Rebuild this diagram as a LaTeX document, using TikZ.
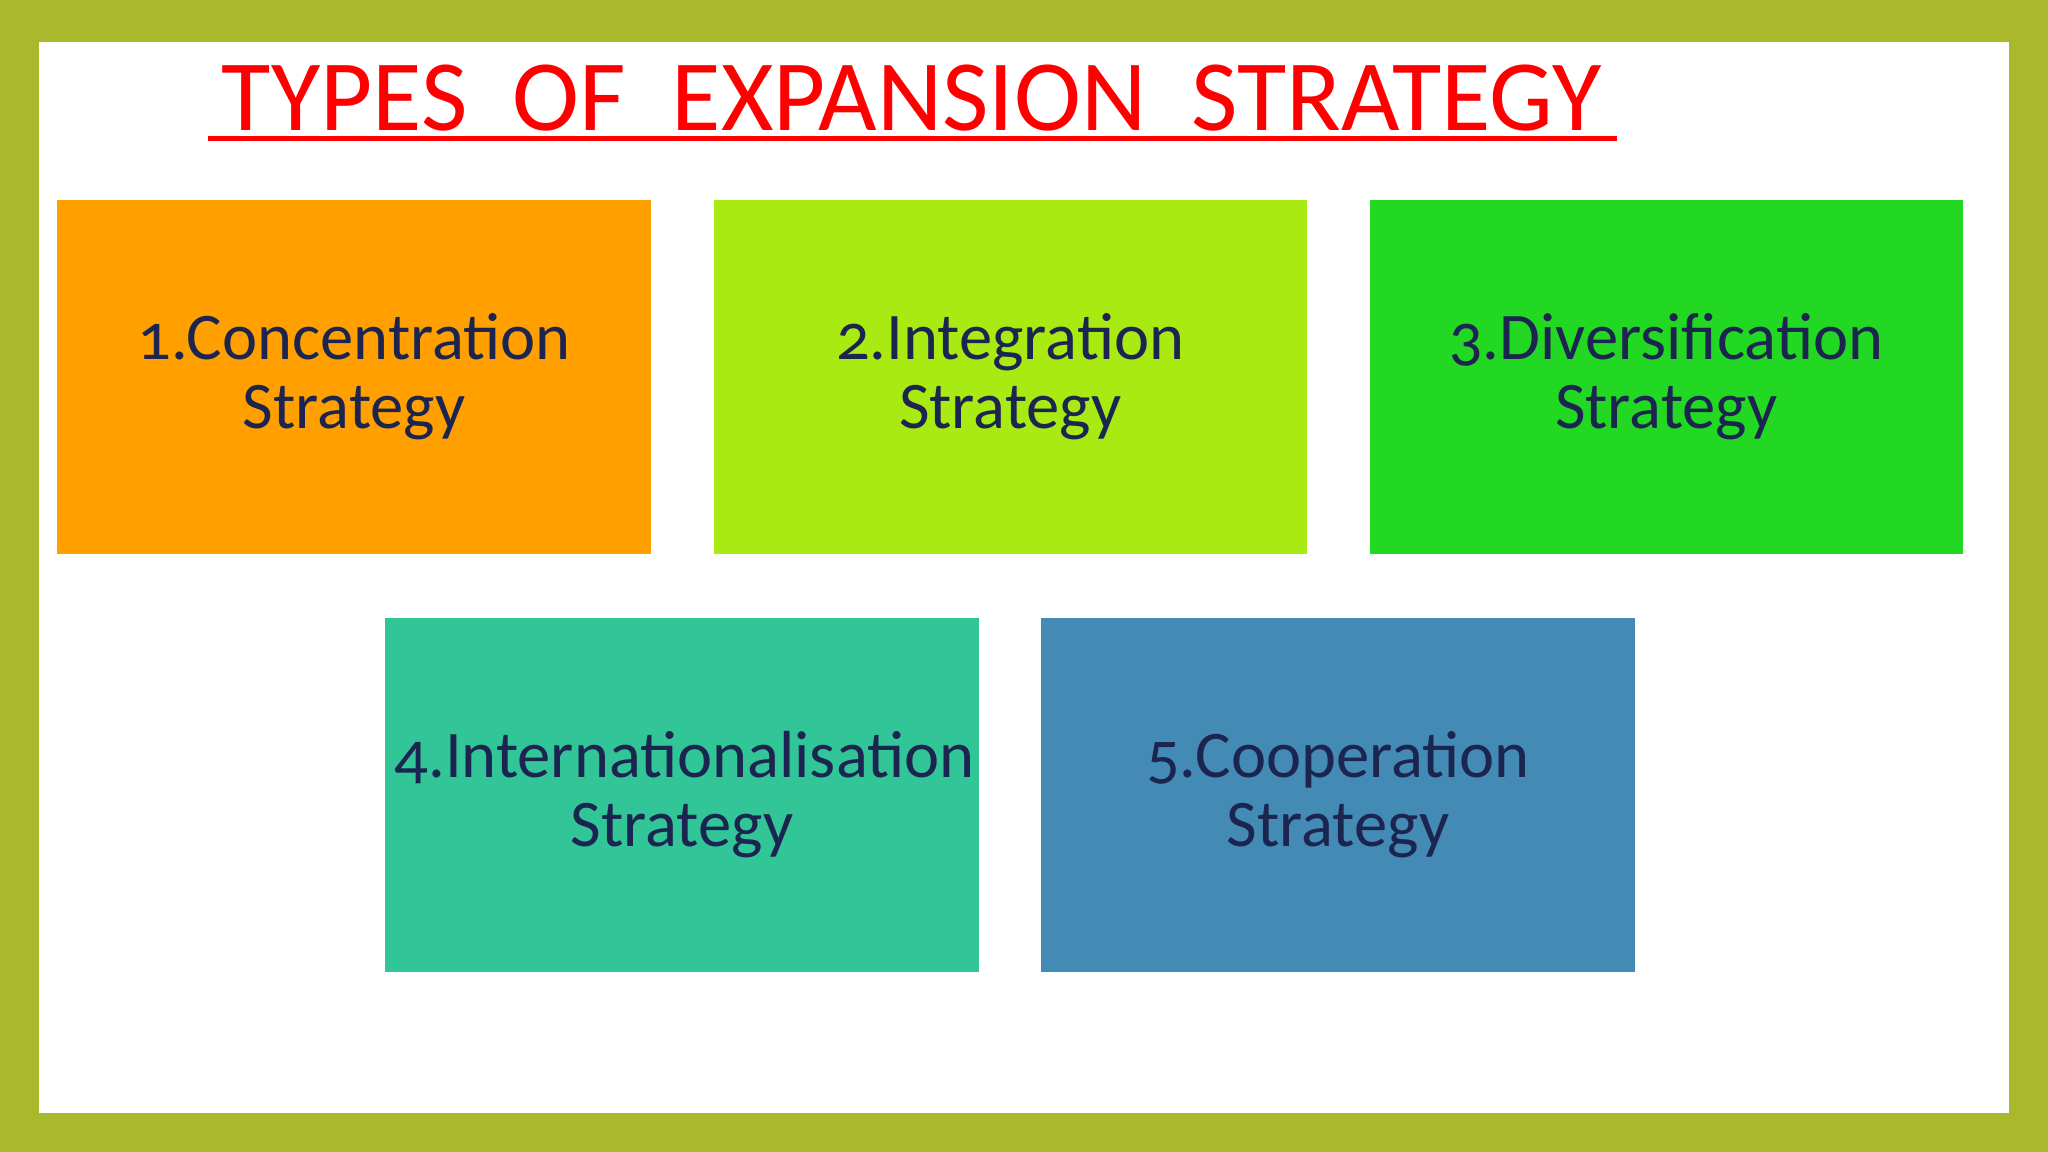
\documentclass[tikz,border=0pt]{standalone}
\usepackage{fontspec}
\setmainfont[Numbers=OldStyle]{Carlito}
\usetikzlibrary{positioning}

\definecolor{frame}{HTML}{A9B92B}
\definecolor{txt}{HTML}{1B2550}
\definecolor{cOrange}{HTML}{FFA000}
\definecolor{cLime}{HTML}{A8EA12}
\definecolor{cGreen}{HTML}{22D822}
\definecolor{cTeal}{HTML}{31C598}
\definecolor{cBlue}{HTML}{438AB5}

\tikzset{
    stratbox/.style={minimum width=4.54cm, minimum height=2.71cm, text width=4.4cm,
        inner sep=0pt, outer sep=0pt, align=center, text=txt,
        font=\fontsize{14.5}{15}\selectfont},
}

\begin{document}
\begin{tikzpicture}[x=0.01cm, y=-0.01cm]

    \fill[frame] (0, 0) rectangle (1568, 882);
    \fill[white] (30, 32) rectangle (1538, 852);

    \node[text=red, font=\fontsize{22}{22}\selectfont, inner sep=0pt] (title) at (698, 75) {TYPES\ \ OF\ \ EXPANSION\ \ STRATEGY};
    \draw[red, line width=1.2pt] (159, 106) -- (1238, 106);

    \node[stratbox, fill=cOrange, anchor=north west] (conc) at (44, 153) {1.Concentration\\Strategy};
    \node[stratbox, fill=cLime, right=0.48cm of conc] (integ) {2.Integration\\Strategy};
    \node[stratbox, fill=cGreen, right=0.48cm of integ] (diver) {3.Diversification\\Strategy};

    \node[stratbox, fill=cTeal, anchor=north west] (inter) at (295, 473) {4.Internationalisation\\Strategy};
    \node[stratbox, fill=cBlue, right=0.48cm of inter] (coop) {5.Cooperation\\Strategy};

\end{tikzpicture}
\end{document}
